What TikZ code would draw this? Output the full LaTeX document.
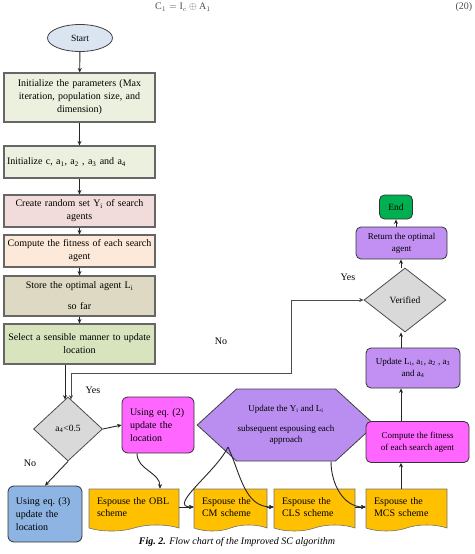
\documentclass[tikz,border=0pt]{standalone}
\usepackage{fontspec}
\setmainfont{Liberation Serif}
\usetikzlibrary{arrows.meta,shapes.geometric,shapes.symbols,calc}
\tikzset{>={Stealth[length=4.5pt,width=4pt]}}

\definecolor{startblue}{HTML}{DBE5F1}
\definecolor{initgreen}{HTML}{EBF1DE}
\definecolor{createpink}{HTML}{F2DCDB}
\definecolor{fitpeach}{HTML}{FDE9D9}
\definecolor{storetan}{HTML}{DDD9C3}
\definecolor{selgreen}{HTML}{D7E4BD}
\definecolor{decgray}{HTML}{D9D9D9}
\definecolor{eqblue}{HTML}{8EB4E3}
\definecolor{eqpink}{HTML}{FF66FF}
\definecolor{docgold}{HTML}{FFC000}
\definecolor{hexpurple}{HTML}{BA8EF0}
\definecolor{boxpurple}{HTML}{C290F3}
\definecolor{endgreen}{HTML}{00B050}

\tikzset{
  startnode/.style={ellipse, draw=black!75, line width=0.8pt, fill=startblue,
    minimum width=65pt, minimum height=27pt, inner sep=0pt, font=\fontsize{9.5}{11}\selectfont},
  leftbox/.style={draw=black!60, line width=1.1pt, minimum width=151pt, text width=145pt,
    inner xsep=3pt, align=center, font=\fontsize{10}{13}\selectfont},
  roundbox/.style={draw=black!80, line width=0.8pt, rounded corners=6pt, align=left,
    inner xsep=8pt, font=\fontsize{10}{13}\selectfont},
  rightbox/.style={draw=black!80, line width=0.8pt, rounded corners=5pt, align=center,
    inner sep=2pt, font=\fontsize{9}{12}\selectfont},
  docbox/.style={tape, tape bend top=none, tape bend bottom=in and out, tape bend height=6pt,
    draw=black!55, line width=0.6pt, fill=docgold, align=left, inner xsep=8pt,
    minimum height=42pt, font=\fontsize{10}{12.5}\selectfont},
  decision/.style={diamond, draw=black!70, line width=0.8pt, fill=decgray, inner sep=0pt,
    font=\fontsize{9.5}{11}\selectfont},
  lbl/.style={font=\fontsize{10}{12}\selectfont},
  flow/.style={->, line width=0.9pt, black!85}
}

\begin{document}
\begin{tikzpicture}[x=1pt,y=-1pt]
\useasboundingbox (0,0) rectangle (474,554);

% equation line at the top of the page
\node[font=\fontsize{10}{12}\selectfont, black!70] (eqtop) at (183,7) {$\mathrm{C}_1 = \mathrm{I}_c \oplus \mathrm{A}_1$};
\node[font=\fontsize{10}{12}\selectfont, black!70, anchor=west] (eqnum) at (452,7) {(20)};

% left column
\node[startnode] (start) at (80,38) {Start};
\node[leftbox, fill=initgreen, minimum height=49pt] (init) at (79.5,97.5)
  {Initialize the parameters (Max\\iteration, population size, and\\dimension)};
\node[leftbox, fill=initgreen, minimum height=32pt, align=left] (initc) at (79.5,162)
  {Initialize c, a\textsubscript{1}, a\textsubscript{2} , a\textsubscript{3} and a\textsubscript{4}};
\node[leftbox, fill=createpink, minimum height=32pt] (create) at (79.5,211)
  {Create random set Y\textsubscript{i} of search\\agents};
\node[leftbox, fill=fitpeach, minimum height=32pt] (fit) at (79.5,251)
  {Compute the fitness of each search\\agent};
\node[leftbox, fill=storetan, minimum height=40pt] (store) at (79.5,296)
  {Store the optimal agent L\textsubscript{i}\\[8pt]so far};
\node[leftbox, fill=selgreen, minimum height=40pt] (sel) at (79.5,344)
  {Select a sensible manner to update\\location};

\node[decision, minimum width=69pt, minimum height=64pt] (dia) at (68,429) {a\textsubscript{4}<0.5};
\node[roundbox, fill=eqblue, text width=58pt, minimum height=56pt] (eqthree) at (45,514)
  {Using eq.\ (3)\\update the\\location};
\node[roundbox, fill=eqpink, text width=56pt, minimum height=56pt] (eqtwo) at (158,425)
  {Using eq.\ (2)\\update the\\location};

% bottom row
\node[docbox, text width=74pt] (obl) at (134,507) {Espouse the OBL\\scheme};
\node[docbox, text width=57pt] (cm) at (230.5,507) {Espouse the\\CM scheme};
\node[docbox, text width=65pt] (cls) at (314.5,507) {Espouse the\\CLS scheme};
\node[docbox, text width=65pt] (mcs) at (406.5,507) {Espouse the\\MCS scheme};

\node[signal, signal to=west and east, signal pointer angle=85, draw=black!75, line width=0.8pt,
  fill=hexpurple, minimum width=163pt, minimum height=72pt, inner sep=1pt, align=center,
  font=\fontsize{9}{11}\selectfont] (hex) at (286,425)
  {Update the Y\textsubscript{i} and L\textsubscript{i}\\[9pt]subsequent espousing each\\approach};

% right column
\node[rightbox, fill=eqpink, minimum width=103pt, minimum height=41pt] (comp) at (417.5,442)
  {Compute the fitness\\of each search agent};
\node[rightbox, fill=boxpurple, minimum width=94pt, minimum height=40pt] (upd) at (413,368)
  {Update L\textsubscript{i}, a\textsubscript{1}, a\textsubscript{2} , a\textsubscript{3}\\and a\textsubscript{4}};
\node[decision, minimum width=82pt, minimum height=64pt] (ver) at (405,300) {Verified};
\node[rightbox, fill=boxpurple, minimum width=91pt, minimum height=32pt] (ret) at (401.5,243)
  {Return the optimal\\agent};
\node[rightbox, fill=endgreen, minimum width=33pt, minimum height=24pt, font=\fontsize{9.5}{11}\selectfont] (fin) at (396,207) {End};

% labels
\node[lbl] (yesa) at (93,390) {Yes};
\node[lbl] (noa) at (30,463) {No};
\node[lbl] (nob) at (221,341) {No};
\node[lbl] (yesb) at (348,277) {Yes};

% caption
\node[font=\fontsize{10}{12}\selectfont] (cap) at (237,542)
  {\textbf{\textit{Fig.\ 2.}} \textit{Flow chart of the Improved SC algorithm}};

% connectors
\draw[flow] (start) -- (init);
\draw[flow] (init) -- (initc);
\draw[flow] (initc) -- (create);
\draw[flow] (create) -- (fit);
\draw[flow] (fit) -- (store);
\draw[flow] (store) -- (sel);
\draw[flow] ($(sel.south -| dia.north)+(-3,0)$) -- ($(dia.north)+(-3,3)$);
\coordinate (loopa) at (291,373);
\draw[flow, <->, black!70] (ver.west) -| (loopa) -| ($(dia.north)+(3,3)$);
\draw[flow] (dia.east) -- (eqtwo.west);
\draw[flow] (dia.south) -- (eqthree.north);
\draw[flow] ([xshift=-21pt]eqtwo.south) to[out=-90,in=90] ([xshift=26pt]obl.north);
\draw[flow] (obl.east) -- (cm.west);
\draw[flow] (cm.east) -- (cls.west);
\draw[flow] (cls.east) -- (mcs.west);
\coordinate (hexa) at ($(hex.center)+(-58,22)$);
\coordinate (hexb) at ($(hex.south)+(45,0)$);
\draw[flow] (hexa) to[out=-115,in=180] (cm.west);
\draw[flow] (hexa) to[out=-65,in=180] (cls.west);
\draw[flow] (hexb) to[out=-90,in=180] (mcs.west);
\coordinate (colx) at (401,0);
\draw[flow] (mcs.north -| colx) -- (comp.south -| colx);
\draw[flow] (comp.north -| colx) -- (upd.south -| colx);
\draw[flow] (upd.north -| colx) -- (ver.south -| colx);
\draw[flow] (ver.north -| colx) -- (ret.south -| colx);
\draw[flow] (ret.north -| fin) -- (fin.south);
\end{tikzpicture}
\end{document}
